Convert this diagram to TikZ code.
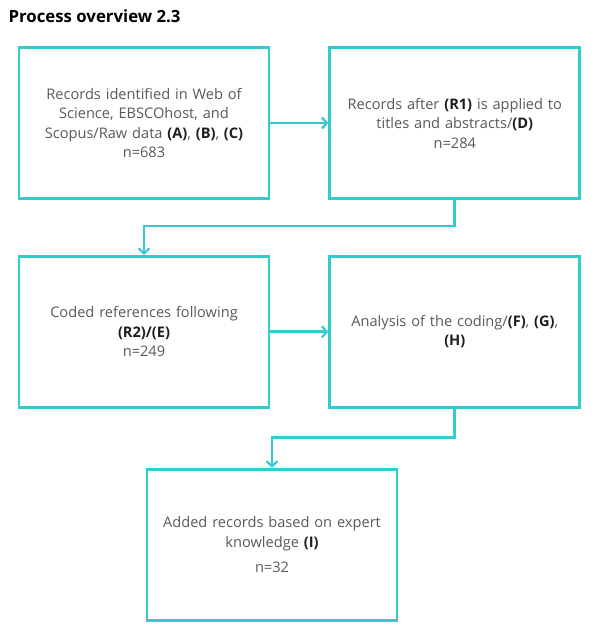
\documentclass[tikz,border=0pt]{standalone}
\usepackage{fontspec}
\setmainfont{Open Sans}
\usetikzlibrary{positioning,arrows.meta}

\definecolor{flowcyan}{RGB}{51,204,206}
\definecolor{flowgray}{RGB}{89,89,89}
\definecolor{flowdark}{RGB}{30,30,30}

\newcommand{\hl}[1]{\textcolor{flowdark}{\textbf{#1}}}

\tikzset{
    stage/.style = {
        rectangle,
        minimum width=250pt,
        minimum height=151pt,
        text width=236pt,
        align=center,
        draw=flowcyan,
        line width=2.8pt,
        fill=white,
        text=flowgray,
        font=\fontsize{14.6}{19.5}\selectfont
    },
    arrow/.style = {
        draw=flowcyan,
        line width=2.8pt,
        -{Straight Barb[length=5pt,width=11pt,line width=2.2pt]}
    }
}

\begin{document}
\begin{tikzpicture}[x=1pt, y=-1pt, node distance=58pt]

\useasboundingbox (0,0) rectangle (596,634);

\node (title) [anchor=west, font=\fontsize{16.8}{19}\selectfont\bfseries] at (5,16) {Process overview 2.3};

\node (ident) [stage] at (144,123) {Records identified in Web of\\
Science, EBSCOhost, and\\
Scopus/Raw data \hl{(A)}, \hl{(B)}, \hl{(C)}\\
n=683};
\node (screen) [stage, right=of ident] {Records after \hl{(R1)} is applied to\\
titles and abstracts/\hl{(D)}\\
n=284};
\node (coded) [stage, below=55pt of ident] {Coded references following\\
\hl{(R2)/(E)}\\
n=249};
\node (analysis) [stage, right=of coded] {Analysis of the coding/\hl{(F)}, \hl{(G)},\\
\hl{(H)}};
\node (expert) [stage, below=59pt of coded, xshift=128pt] {Added records based on expert\\
knowledge \hl{(I)}\\[6pt]
n=32};

% Arrows
\draw [arrow] (ident) -- (screen);
\draw [arrow] (screen.south) -- ++(0,26) -| (coded.north);
\draw [arrow] (coded) -- (analysis);
\draw [arrow] (analysis.south) -- ++(0,29) -| (expert.north);

\end{tikzpicture}
\end{document}
